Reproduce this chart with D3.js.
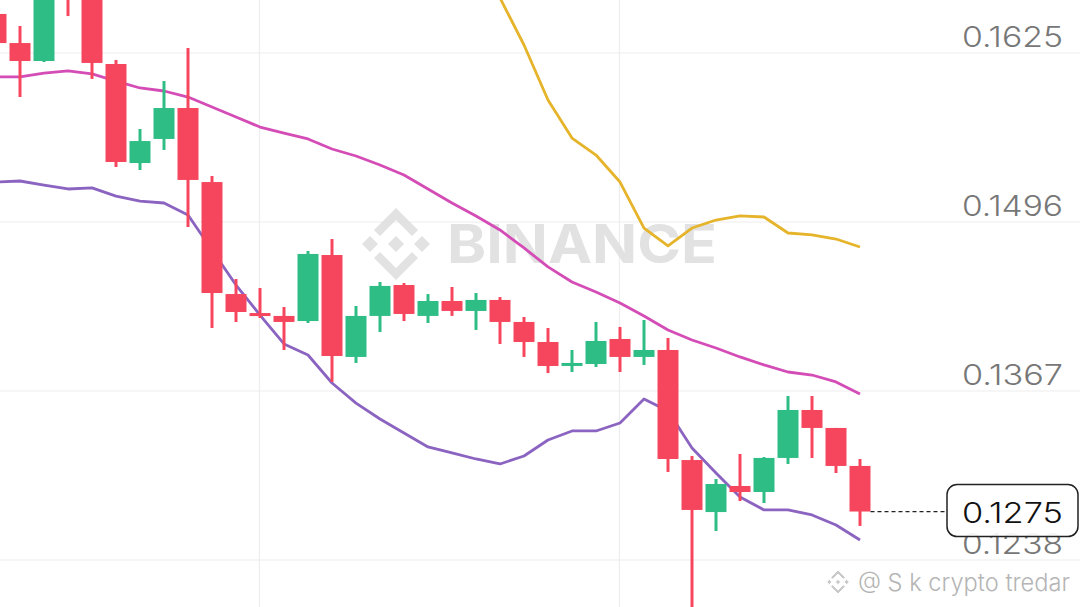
<!DOCTYPE html>
<html>
<head>
<meta charset="utf-8">
<script src="https://cdn.jsdelivr.net/npm/d3@7/dist/d3.min.js"></script>
<style>
  html, body { margin: 0; padding: 0; background: #fff; }
  #chart { width: 1080px; height: 607px; overflow: hidden; }
</style>
</head>
<body>
<div id="chart"></div>
<script>
// candles (oldest first), prices
var opens  = [0.16548, 0.16326, 0.16189, 0.16807, 0.16693, 0.16166, 0.15410, 0.15594, 0.15830, 0.15265,
              0.14410, 0.14265, 0.14243, 0.14204, 0.14708, 0.13930, 0.14243, 0.14479, 0.14243, 0.14357,
              0.14281, 0.14365, 0.14197, 0.14044, 0.13869, 0.13876, 0.14067, 0.13930, 0.13983, 0.13143,
              0.12746, 0.12945, 0.12899, 0.13159, 0.13525, 0.13388, 0.13098];
var highs  = [0.16578, 0.16456, 0.16731, 0.16845, 0.16731, 0.16197, 0.15670, 0.16036, 0.16288, 0.15311,
              0.14525, 0.14456, 0.14311, 0.14739, 0.14830, 0.14319, 0.14502, 0.14494, 0.14410, 0.14464,
              0.14418, 0.14387, 0.14235, 0.14151, 0.13983, 0.14197, 0.14159, 0.14212, 0.14075, 0.13174,
              0.12998, 0.13189, 0.13166, 0.13632, 0.13632, 0.13388, 0.13151];
var lows   = [0.16311, 0.15914, 0.16181, 0.16532, 0.16052, 0.15380, 0.15357, 0.15510, 0.14922, 0.14151,
              0.14197, 0.14227, 0.13983, 0.14189, 0.13739, 0.13884, 0.14120, 0.14204, 0.14189, 0.14243,
              0.14136, 0.14029, 0.13930, 0.13807, 0.13815, 0.13853, 0.13815, 0.13869, 0.13052, 0.11950,
              0.12601, 0.12830, 0.12815, 0.13113, 0.13159, 0.13044, 0.12640];
var closes = [0.16326, 0.16189, 0.16693, 0.16677, 0.16174, 0.15418, 0.15578, 0.15830, 0.15281, 0.14418,
              0.14273, 0.14243, 0.14197, 0.14716, 0.13937, 0.14243, 0.14472, 0.14258, 0.14357, 0.14281,
              0.14365, 0.14197, 0.14044, 0.13861, 0.13884, 0.14052, 0.13930, 0.13983, 0.13151, 0.12762,
              0.12960, 0.12899, 0.13159, 0.13525, 0.13388, 0.13098, 0.1275];

// indicator lines
var upperLine = [0.16067, 0.16067, 0.16097, 0.16113, 0.16090, 0.16036, 0.15983, 0.15960, 0.15914, 0.15838,
                 0.15761, 0.15685, 0.15639, 0.15594, 0.15517, 0.15464, 0.15395, 0.15319, 0.15212, 0.15105,
                 0.15006, 0.14899, 0.14762, 0.14617, 0.14502, 0.14426, 0.14342, 0.14243, 0.14136, 0.14059,
                 0.13998, 0.13930, 0.13869, 0.13815, 0.13792, 0.13739, 0.13647];
var lowerLine = [0.15265, 0.15273, 0.15242, 0.15212, 0.15220, 0.15158, 0.15120, 0.15105, 0.15013, 0.14746,
                 0.14479, 0.14250, 0.14029, 0.13945, 0.13731, 0.13578, 0.13456, 0.13349, 0.13243, 0.13197,
                 0.13151, 0.13113, 0.13174, 0.13296, 0.13365, 0.13365, 0.13426, 0.13609, 0.13517, 0.13235,
                 0.13044, 0.12861, 0.12762, 0.12762, 0.12724, 0.12647, 0.12533];
var slowLine  = [null, null, null, null, null, null, null, null, null, null,
                 null, null, null, null, null, null, null, null, null, null,
                 null, 0.16670, 0.16311, 0.15891, 0.15601, 0.15471, 0.15265, 0.14914, 0.14777, 0.14914,
                 0.14975, 0.15006, 0.14998, 0.14876, 0.14861, 0.14830, 0.14769];

var priceTicks = [0.1625, 0.1496, 0.1367, 0.1238];
var timeGrid = [11, 26];
var lastPrice = 0.1275;

var W = 1080, H = 607;
var UP = "#2ebd85", DOWN = "#f6465d";

var svg = d3.select("#chart").append("svg")
  .attr("width", W).attr("height", H)
  .style("font-family", "Inter, 'Noto Sans', sans-serif");

var idx = d3.range(opens.length);
var x = d3.scalePoint().domain(idx).range([-4, 860]);
var y = d3.scaleLinear().domain([0.1238, 0.1625]).range([560, 53]);
var bw = 21;

// grid
svg.append("g").selectAll("line").data(priceTicks).enter().append("line")
  .attr("x1", 0).attr("x2", W)
  .attr("y1", function(d) { return y(d); }).attr("y2", function(d) { return y(d); })
  .attr("stroke", "#ededed").attr("stroke-width", 1.2);
svg.append("g").selectAll("line").data(timeGrid).enter().append("line")
  .attr("y1", 0).attr("y2", H)
  .attr("x1", function(d) { return x(d) - 0.5; }).attr("x2", function(d) { return x(d) - 0.5; })
  .attr("stroke", "#ededed").attr("stroke-width", 1.2);

// binance logo path, unit size 36
function logoPath(cx, cy, s) {
  var k = s / 36;
  function p(pts) {
    return "M" + pts.map(function(q) { return (cx + q[0] * k) + "," + (cy + q[1] * k); }).join("L") + "Z";
  }
  function dia(ox, oy, r) { return p([[ox, oy - r], [ox + r, oy], [ox, oy + r], [ox - r, oy]]); }
  return dia(0, 0, 8) + dia(-26, 0, 8) + dia(26, 0, 8) +
    p([[0, -36], [22, -14], [16, -8], [0, -24], [-16, -8], [-22, -14]]) +
    p([[0, 36], [22, 14], [16, 8], [0, 24], [-16, 8], [-22, 14]]);
}

// watermark
var wm = svg.append("g").attr("fill", "#dedede").attr("opacity", 0.85);
wm.append("path").attr("d", logoPath(396, 244, 36));
wm.append("text").attr("x", 447).attr("y", 263)
  .attr("font-size", 53).attr("font-weight", 700)
  .attr("textLength", 270).attr("lengthAdjust", "spacingAndGlyphs")
  .text("BINANCE");

// indicator lines
var line = d3.line()
  .defined(function(d) { return d != null; })
  .x(function(d, i) { return x(i); })
  .y(function(d) { return y(d); });

svg.append("path").datum(slowLine).attr("d", line)
  .attr("fill", "none").attr("stroke", "#e6b42a").attr("stroke-width", 2.8).attr("stroke-linejoin", "round");
svg.append("path").datum(upperLine).attr("d", line)
  .attr("fill", "none").attr("stroke", "#d44cb6").attr("stroke-width", 2.8).attr("stroke-linejoin", "round");
svg.append("path").datum(lowerLine).attr("d", line)
  .attr("fill", "none").attr("stroke", "#8b63c0").attr("stroke-width", 2.8).attr("stroke-linejoin", "round");

// candles
var candles = svg.append("g").selectAll("g").data(idx).enter().append("g")
  .attr("fill", function(i) { return closes[i] >= opens[i] ? UP : DOWN; })
  .attr("stroke", function(i) { return closes[i] >= opens[i] ? UP : DOWN; });

candles.append("line")
  .attr("x1", function(i) { return x(i); }).attr("x2", function(i) { return x(i); })
  .attr("y1", function(i) { return y(highs[i]); })
  .attr("y2", function(i) { return y(lows[i]); })
  .attr("stroke-width", 3);

candles.append("rect")
  .attr("stroke", "none")
  .attr("x", function(i) { return x(i) - bw / 2; })
  .attr("width", bw)
  .attr("y", function(i) { return y(Math.max(opens[i], closes[i])); })
  .attr("height", function(i) {
    return Math.max(3, Math.abs(y(opens[i]) - y(closes[i])));
  });

// price axis labels
svg.append("g").selectAll("text").data(priceTicks).enter().append("text")
  .attr("x", 962).attr("y", function(d) { return y(d) - 6; })
  .attr("font-size", 28).attr("font-weight", 300)
  .attr("fill", "#777")
  .attr("textLength", 101).attr("lengthAdjust", "spacingAndGlyphs")
  .text(function(d) { return d.toFixed(4); });

// last price marker
svg.append("line")
  .attr("x1", x(idx.length - 1) + bw / 2).attr("x2", 947)
  .attr("y1", y(lastPrice)).attr("y2", y(lastPrice))
  .attr("stroke", "#222").attr("stroke-width", 1.3).attr("stroke-dasharray", "4,3");
svg.append("rect")
  .attr("x", 947).attr("y", y(lastPrice) - 27).attr("width", 131).attr("height", 52).attr("rx", 10)
  .attr("fill", "#fff").attr("fill-opacity", 0.92).attr("stroke", "#222").attr("stroke-width", 1.5);
svg.append("text")
  .attr("x", 962).attr("y", y(lastPrice) + 11)
  .attr("font-size", 28).attr("font-weight", 300).attr("fill", "#111")
  .attr("textLength", 101).attr("lengthAdjust", "spacingAndGlyphs")
  .text(lastPrice.toFixed(4));

// author watermark
var au = svg.append("g");
au.append("path").attr("d", logoPath(838, 582, 12))
  .attr("fill", "#c9c9c9").attr("stroke", "#fff").attr("stroke-width", 1);
au.append("text").attr("x", 858).attr("y", 591)
  .attr("font-size", 24).attr("font-weight", 300).attr("fill", "#b5b5b5")
  .attr("stroke", "#fff").attr("stroke-width", 2).attr("paint-order", "stroke")
  .attr("textLength", 212).attr("lengthAdjust", "spacingAndGlyphs")
  .text("@ S k crypto tredar");
</script>
</body>
</html>
